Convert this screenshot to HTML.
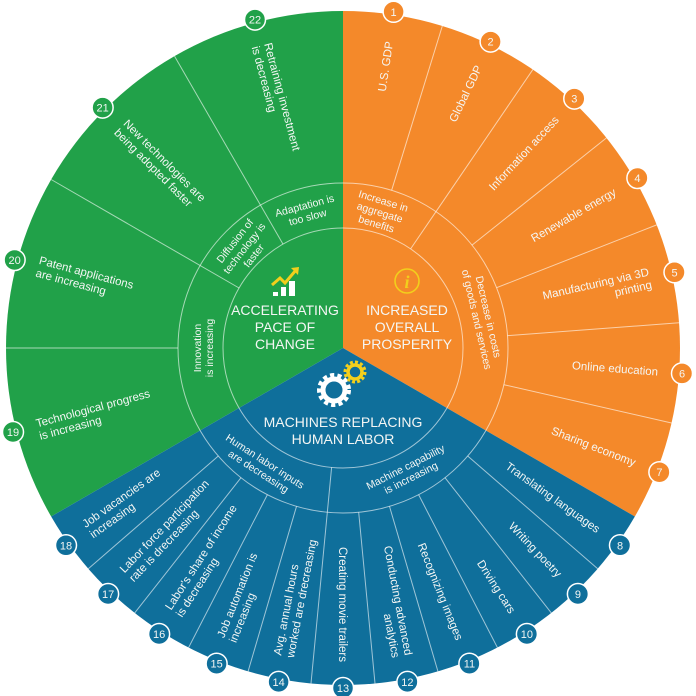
<!DOCTYPE html>
<html><head><meta charset="utf-8"><style>
html,body{margin:0;padding:0;background:#fff;}
svg{display:block;}
text{font-family:"Liberation Sans",sans-serif;fill:#f4f6f4;}
.o{font-size:11.5px;}
.m{font-size:10.5px;}
.n{font-size:11px;text-anchor:middle;}
.t{font-size:14px;text-anchor:middle;}
</style></head><body>
<svg width="696" height="696" viewBox="0 0 696 696" xmlns="http://www.w3.org/2000/svg">
<path d="M343,348 L343,11 A337,337 0 0,0 51.15,516.5 Z" fill="#21a149"/>
<path d="M343,348 L343,11 A337,337 0 0,1 634.85,516.5 Z" fill="#f4892a"/>
<path d="M343,348 L51.15,516.5 A337,337 0 0,0 634.85,516.5 Z" fill="#0f6f9b"/>
<g transform="translate(343,348)" stroke="#fff" stroke-opacity="0.6" stroke-width="1" fill="none">
<circle r="120"/><circle r="165"/>
<g>
<line x1="165" x2="337" transform="rotate(-72.86)"/>
<line x1="165" x2="337" transform="rotate(-55.71)"/>
<line x1="165" x2="337" transform="rotate(-38.57)"/>
<line x1="165" x2="337" transform="rotate(-21.43)"/>
<line x1="165" x2="337" transform="rotate(-4.29)"/>
<line x1="165" x2="337" transform="rotate(12.86)"/>
<line x1="165" x2="337" transform="rotate(-319.09)"/>
<line x1="165" x2="337" transform="rotate(-308.18)"/>
<line x1="165" x2="337" transform="rotate(-297.27)"/>
<line x1="165" x2="337" transform="rotate(-286.36)"/>
<line x1="165" x2="337" transform="rotate(-275.45)"/>
<line x1="165" x2="337" transform="rotate(-264.55)"/>
<line x1="165" x2="337" transform="rotate(-253.64)"/>
<line x1="165" x2="337" transform="rotate(-242.73)"/>
<line x1="165" x2="337" transform="rotate(-231.82)"/>
<line x1="165" x2="337" transform="rotate(-220.91)"/>
<line x1="120" x2="337" transform="rotate(-120)"/>
<line x1="120" x2="337" transform="rotate(-150)"/>
<line x1="165" x2="337" transform="rotate(-180)"/>
<line x1="120" x2="165" transform="rotate(-55.71)"/>
<line x1="120" x2="165" transform="rotate(-264.55)"/>
</g>
</g>
<g transform="translate(343,348)" stroke="#fff" stroke-width="1.5">
<g fill="#f4892a">
<circle r="10.5" cx="50.6" cy="-336.2"/>
<circle r="10.5" cx="147.6" cy="-306.4"/>
<circle r="10.5" cx="231.3" cy="-249.4"/>
<circle r="10.5" cx="294.4" cy="-170"/>
<circle r="10.5" cx="331.5" cy="-75.7"/>
<circle r="10.5" cx="339" cy="25.4"/>
<circle r="10.5" cx="316.4" cy="124.2"/>
</g>
<g fill="#0f6f9b">
<circle r="10.5" cx="277" cy="197.3"/>
<circle r="10.5" cx="234.9" cy="246"/>
<circle r="10.5" cx="183.9" cy="286"/>
<circle r="10.5" cx="126.4" cy="315.7"/>
<circle r="10.5" cx="64.4" cy="333.9"/>
<circle r="10.5" cx="0" cy="340"/>
<circle r="10.5" cx="-64.4" cy="333.9"/>
<circle r="10.5" cx="-126.4" cy="315.7"/>
<circle r="10.5" cx="-183.9" cy="286"/>
<circle r="10.5" cx="-234.9" cy="246"/>
<circle r="10.5" cx="-277" cy="197.3"/>
</g>
<g fill="#21a149">
<circle r="10.5" cx="-330" cy="84"/>
<circle r="10.5" cx="-328.4" cy="-88"/>
<circle r="10.5" cx="-240.4" cy="-240.4"/>
<circle r="10.5" cx="-88" cy="-328.4"/>
</g>
</g>
<g transform="translate(343,352)">
<text class="n" x="50.6" y="-336.2">1</text>
<text class="n" x="147.6" y="-306.4">2</text>
<text class="n" x="231.3" y="-249.4">3</text>
<text class="n" x="294.4" y="-170">4</text>
<text class="n" x="331.5" y="-75.7">5</text>
<text class="n" x="339" y="25.4">6</text>
<text class="n" x="316.4" y="124.2">7</text>
<text class="n" x="277" y="197.3">8</text>
<text class="n" x="234.9" y="246">9</text>
<text class="n" x="183.9" y="286">10</text>
<text class="n" x="126.4" y="315.7">11</text>
<text class="n" x="64.4" y="333.9">12</text>
<text class="n" x="0" y="340">13</text>
<text class="n" x="-64.4" y="333.9">14</text>
<text class="n" x="-126.4" y="315.7">15</text>
<text class="n" x="-183.9" y="286">16</text>
<text class="n" x="-234.9" y="246">17</text>
<text class="n" x="-277" y="197.3">18</text>
<text class="n" x="-330" y="84">19</text>
<text class="n" x="-328.4" y="-88">20</text>
<text class="n" x="-240.4" y="-240.4">21</text>
<text class="n" x="-88" y="-328.4">22</text>
</g>
<g transform="translate(343,348)" class="o">
<g text-anchor="end">
<text transform="rotate(-81.43)" x="310" y="4">U.S. GDP</text>
<text transform="rotate(-64.29)" x="313" y="4">Global GDP</text>
<text transform="rotate(-47.14)" x="314" y="4">Information access</text>
<text transform="rotate(-30)" x="314" y="4">Renewable energy</text>
<text transform="rotate(-12.86)" x="315" y="-2.5">Manufacturing via 3D<tspan x="315" y="10.5">printing</tspan></text>
<text transform="rotate(4.29)" x="316" y="4">Online education</text>
<text transform="rotate(21.43)" x="314" y="4">Sharing economy</text>
<text transform="rotate(-324.55)" x="314" y="4">Translating languages</text>
<text transform="rotate(-313.64)" x="314" y="4">Writing poetry</text>
<text transform="rotate(-302.73)" x="314" y="4">Driving cars</text>
<text transform="rotate(-291.82)" x="314" y="4">Recognizing images</text>
<text transform="rotate(-280.91)" x="314" y="-2.5">Conducting advanced<tspan x="314" y="10.5">analytics</tspan></text>
<text transform="rotate(-270)" x="314" y="4">Creating movie trailers</text>
</g>
<g text-anchor="start">
<text transform="rotate(-79.09)" x="-314" y="-2.5">Avg. annual hours<tspan x="-314" y="10.5">worked are drecreasing</tspan></text>
<text transform="rotate(-68.18)" x="-314" y="-2.5">Job automation is<tspan x="-314" y="10.5">increasing</tspan></text>
<text transform="rotate(-57.27)" x="-314" y="-2.5">Labor's share of income<tspan x="-314" y="10.5">is decreasing</tspan></text>
<text transform="rotate(-46.36)" x="-314" y="-2.5">Labor force participation<tspan x="-314" y="10.5">rate is drecreasing</tspan></text>
<text transform="rotate(-35.45)" x="-314" y="-2.5">Job vacancies are<tspan x="-314" y="10.5">increasing</tspan></text>
<text transform="rotate(-15)" x="-316" y="-2.5">Technological progress<tspan x="-316" y="10.5">is increasing</tspan></text>
<text transform="rotate(15)" x="-316" y="-2.5">Patent applications<tspan x="-316" y="10.5">are increasing</tspan></text>
<text transform="rotate(45)" x="-314" y="-2.5">New technologies are<tspan x="-314" y="10.5">being adopted faster</tspan></text>
<text transform="rotate(75)" x="-314" y="-2.5">Retraining investment<tspan x="-314" y="10.5">is decreasing</tspan></text>
</g>
</g>
<g class="m" text-anchor="middle">
<text transform="translate(306,211) rotate(-15)" y="-2">Adaptation is<tspan x="0" y="10">too slow</tspan></text>
<text transform="translate(244,248) rotate(-52)" y="-8">Diffusion of<tspan x="0" y="4">technology is</tspan><tspan x="0" y="16">faster</tspan></text>
<text transform="translate(203,348) rotate(-90)" y="-2">Innovation<tspan x="0" y="10">is increasing</tspan></text>
<text transform="translate(380,212) rotate(17)" y="-8">Increase in<tspan x="0" y="4">aggregate</tspan><tspan x="0" y="16">benefits</tspan></text>
<text transform="translate(483,318) rotate(77)" y="-2">Decrease in costs<tspan x="0" y="10">of goods and services</tspan></text>
<text transform="translate(262,466) rotate(33)" y="-2">Human labor inputs<tspan x="0" y="10">are decreasing</tspan></text>
<text transform="translate(408,472) rotate(-27)" y="-2">Machine capability<tspan x="0" y="10">is increasing</tspan></text>
</g>
<text class="t" x="285" y="315">ACCELERATING</text>
<text class="t" x="285" y="332">PACE OF</text>
<text class="t" x="285" y="349">CHANGE</text>
<text class="t" x="407" y="315">INCREASED</text>
<text class="t" x="407" y="332">OVERALL</text>
<text class="t" x="407" y="349">PROSPERITY</text>
<text class="t" x="343" y="427">MACHINES REPLACING</text>
<text class="t" x="343" y="444">HUMAN LABOR</text>
<g fill="#fff">
<rect x="273" y="292" width="5" height="4"/>
<rect x="281" y="287" width="5" height="9"/>
<rect x="289" y="281" width="6" height="15"/>
</g>
<polyline points="272,285 280,278 285,283 296,270" fill="none" stroke="#f2cf1c" stroke-width="3"/>
<polygon points="291,268 299,267 298,275" fill="#f2cf1c"/>
<circle cx="407" cy="281" r="12" fill="none" stroke="#f2cf1c" stroke-width="1.6"/>
<text x="407" y="288" style="fill:#f2cf1c;font-size:18px;font-weight:bold;font-style:italic;font-family:'Liberation Serif',serif" text-anchor="middle">i</text>
<circle cx="334" cy="390" r="11" fill="none" stroke="#fff" stroke-width="5"/>
<circle cx="334" cy="390" r="15" fill="none" stroke="#fff" stroke-width="4" stroke-dasharray="4.2 3.2"/>
<circle cx="355" cy="372" r="7" fill="none" stroke="#f2cf1c" stroke-width="3.5"/>
<circle cx="355" cy="372" r="10" fill="none" stroke="#f2cf1c" stroke-width="3" stroke-dasharray="3 2.2"/>
</svg>
</body></html>
